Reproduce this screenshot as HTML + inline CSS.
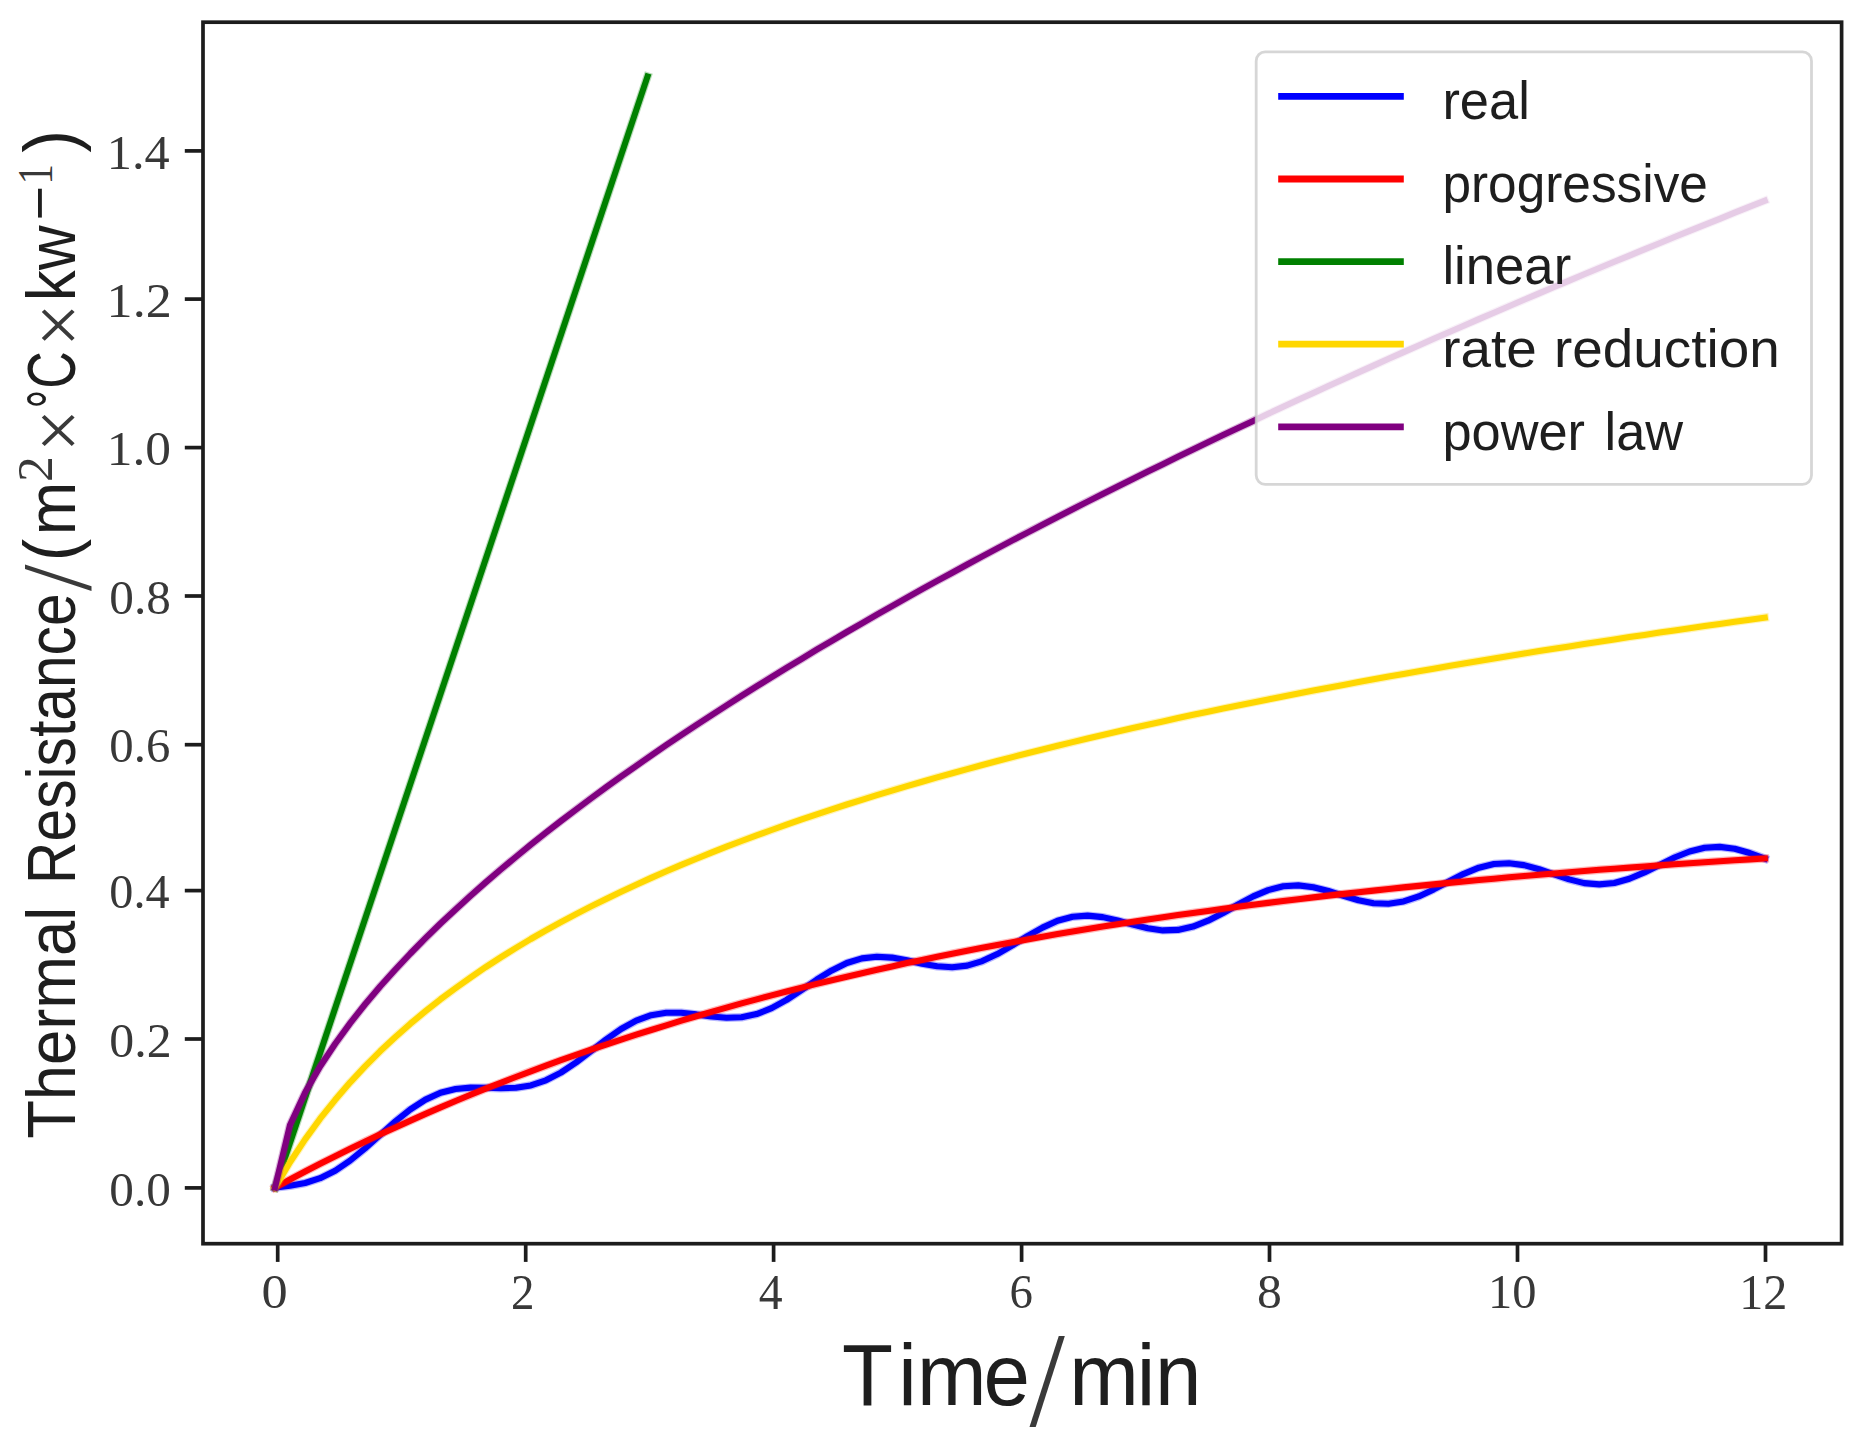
<!DOCTYPE html>
<html lang="en"><head><meta charset="utf-8"><title>Thermal Resistance vs Time</title>
<style>
html,body{margin:0;padding:0;background:#fff;}
body{width:1862px;height:1444px;overflow:hidden;}
svg{display:block;}
#chart{width:1862px;height:1444px;}
.tick{font-family:"Liberation Serif","DejaVu Serif",serif;fill:#383838;}
.sans{font-family:"Liberation Sans","DejaVu Sans",sans-serif;fill:#1e1e1e;}
.sym{font-family:"Liberation Serif","DejaVu Serif",serif;fill:#3a3a3a;}
.ln{fill:none;stroke-linecap:square;stroke-linejoin:round;}
</style></head><body>
<div id="chart">
<svg width="1862" height="1444" viewBox="0 0 1862 1444">
<rect x="0" y="0" width="1862" height="1444" fill="#ffffff"/>
<g class="ln">
<polyline stroke="#0000ff" stroke-width="8.4" stroke-opacity="0.28" points="275.0,1187.6 290.0,1185.8 305.1,1183.0 320.1,1178.2 335.2,1170.7 350.2,1160.5 365.3,1148.2 380.3,1134.8 395.4,1121.4 410.4,1109.4 425.5,1099.6 440.5,1092.8 455.6,1089.0 470.6,1087.6 485.7,1087.8 500.7,1088.3 515.8,1087.8 530.8,1085.4 545.9,1080.3 560.9,1072.6 576.0,1062.5 591.0,1051.1 606.1,1039.5 621.1,1029.0 636.2,1020.7 651.2,1015.2 666.3,1012.7 681.3,1012.7 696.4,1014.4 711.4,1016.5 726.5,1017.8 741.5,1017.3 756.6,1014.1 771.6,1008.2 786.6,999.9 801.7,990.0 816.7,979.7 831.8,970.4 846.8,963.0 861.9,958.4 876.9,956.7 892.0,957.6 907.0,960.3 922.1,963.7 937.1,966.3 952.2,967.2 967.2,965.6 982.3,961.1 997.3,954.1 1012.4,945.4 1027.4,936.1 1042.5,927.6 1057.5,920.8 1072.6,916.7 1087.6,915.6 1102.7,917.1 1117.7,920.5 1132.8,924.6 1147.8,928.3 1162.9,930.4 1177.9,929.9 1193.0,926.6 1208.0,920.7 1223.1,913.0 1238.1,904.5 1253.2,896.4 1268.2,890.1 1283.2,886.3 1298.3,885.4 1313.3,887.2 1328.4,891.0 1343.4,895.8 1358.5,900.2 1373.5,903.2 1388.6,903.7 1403.6,901.4 1418.7,896.4 1433.7,889.4 1448.8,881.5 1463.8,873.8 1478.9,867.7 1493.9,864.0 1509.0,863.2 1524.0,865.1 1539.1,869.2 1554.1,874.4 1569.2,879.4 1584.2,883.1 1599.3,884.4 1614.3,883.0 1629.4,878.7 1644.4,872.4 1659.5,864.9 1674.5,857.5 1689.6,851.5 1704.6,847.8 1719.7,846.9 1734.7,848.8 1749.8,853.0 1764.8,858.5"/>
<polyline stroke="#0000ff" stroke-width="6.1" points="275.0,1187.6 290.0,1185.8 305.1,1183.0 320.1,1178.2 335.2,1170.7 350.2,1160.5 365.3,1148.2 380.3,1134.8 395.4,1121.4 410.4,1109.4 425.5,1099.6 440.5,1092.8 455.6,1089.0 470.6,1087.6 485.7,1087.8 500.7,1088.3 515.8,1087.8 530.8,1085.4 545.9,1080.3 560.9,1072.6 576.0,1062.5 591.0,1051.1 606.1,1039.5 621.1,1029.0 636.2,1020.7 651.2,1015.2 666.3,1012.7 681.3,1012.7 696.4,1014.4 711.4,1016.5 726.5,1017.8 741.5,1017.3 756.6,1014.1 771.6,1008.2 786.6,999.9 801.7,990.0 816.7,979.7 831.8,970.4 846.8,963.0 861.9,958.4 876.9,956.7 892.0,957.6 907.0,960.3 922.1,963.7 937.1,966.3 952.2,967.2 967.2,965.6 982.3,961.1 997.3,954.1 1012.4,945.4 1027.4,936.1 1042.5,927.6 1057.5,920.8 1072.6,916.7 1087.6,915.6 1102.7,917.1 1117.7,920.5 1132.8,924.6 1147.8,928.3 1162.9,930.4 1177.9,929.9 1193.0,926.6 1208.0,920.7 1223.1,913.0 1238.1,904.5 1253.2,896.4 1268.2,890.1 1283.2,886.3 1298.3,885.4 1313.3,887.2 1328.4,891.0 1343.4,895.8 1358.5,900.2 1373.5,903.2 1388.6,903.7 1403.6,901.4 1418.7,896.4 1433.7,889.4 1448.8,881.5 1463.8,873.8 1478.9,867.7 1493.9,864.0 1509.0,863.2 1524.0,865.1 1539.1,869.2 1554.1,874.4 1569.2,879.4 1584.2,883.1 1599.3,884.4 1614.3,883.0 1629.4,878.7 1644.4,872.4 1659.5,864.9 1674.5,857.5 1689.6,851.5 1704.6,847.8 1719.7,846.9 1734.7,848.8 1749.8,853.0 1764.8,858.5"/>
<polyline stroke="#ff0000" stroke-width="8.4" stroke-opacity="0.28" points="275.0,1187.6 290.0,1179.5 305.1,1171.5 320.1,1163.8 335.2,1156.2 350.2,1148.7 365.3,1141.4 380.3,1134.3 395.4,1127.4 410.4,1120.6 425.5,1113.9 440.5,1107.4 455.6,1101.0 470.6,1094.8 485.7,1088.7 500.7,1082.8 515.8,1077.0 530.8,1071.3 545.9,1065.7 560.9,1060.2 576.0,1054.9 591.0,1049.7 606.1,1044.6 621.1,1039.6 636.2,1034.7 651.2,1030.0 666.3,1025.3 681.3,1020.7 696.4,1016.3 711.4,1011.9 726.5,1007.6 741.5,1003.4 756.6,999.4 771.6,995.4 786.6,991.5 801.7,987.6 816.7,983.9 831.8,980.2 846.8,976.7 861.9,973.2 876.9,969.8 892.0,966.4 907.0,963.1 922.1,959.9 937.1,956.8 952.2,953.7 967.2,950.7 982.3,947.8 997.3,945.0 1012.4,942.2 1027.4,939.4 1042.5,936.7 1057.5,934.1 1072.6,931.5 1087.6,929.0 1102.7,926.6 1117.7,924.2 1132.8,921.8 1147.8,919.5 1162.9,917.3 1177.9,915.1 1193.0,913.0 1208.0,910.9 1223.1,908.8 1238.1,906.8 1253.2,904.8 1268.2,902.9 1283.2,901.0 1298.3,899.2 1313.3,897.4 1328.4,895.6 1343.4,893.9 1358.5,892.2 1373.5,890.6 1388.6,889.0 1403.6,887.4 1418.7,885.9 1433.7,884.4 1448.8,882.9 1463.8,881.5 1478.9,880.0 1493.9,878.7 1509.0,877.3 1524.0,876.0 1539.1,874.7 1554.1,873.5 1569.2,872.2 1584.2,871.0 1599.3,869.8 1614.3,868.7 1629.4,867.6 1644.4,866.5 1659.5,865.4 1674.5,864.3 1689.6,863.3 1704.6,862.3 1719.7,861.3 1734.7,860.3 1749.8,859.4 1764.8,858.5"/>
<polyline stroke="#ff0000" stroke-width="6.1" points="275.0,1187.6 290.0,1179.5 305.1,1171.5 320.1,1163.8 335.2,1156.2 350.2,1148.7 365.3,1141.4 380.3,1134.3 395.4,1127.4 410.4,1120.6 425.5,1113.9 440.5,1107.4 455.6,1101.0 470.6,1094.8 485.7,1088.7 500.7,1082.8 515.8,1077.0 530.8,1071.3 545.9,1065.7 560.9,1060.2 576.0,1054.9 591.0,1049.7 606.1,1044.6 621.1,1039.6 636.2,1034.7 651.2,1030.0 666.3,1025.3 681.3,1020.7 696.4,1016.3 711.4,1011.9 726.5,1007.6 741.5,1003.4 756.6,999.4 771.6,995.4 786.6,991.5 801.7,987.6 816.7,983.9 831.8,980.2 846.8,976.7 861.9,973.2 876.9,969.8 892.0,966.4 907.0,963.1 922.1,959.9 937.1,956.8 952.2,953.7 967.2,950.7 982.3,947.8 997.3,945.0 1012.4,942.2 1027.4,939.4 1042.5,936.7 1057.5,934.1 1072.6,931.5 1087.6,929.0 1102.7,926.6 1117.7,924.2 1132.8,921.8 1147.8,919.5 1162.9,917.3 1177.9,915.1 1193.0,913.0 1208.0,910.9 1223.1,908.8 1238.1,906.8 1253.2,904.8 1268.2,902.9 1283.2,901.0 1298.3,899.2 1313.3,897.4 1328.4,895.6 1343.4,893.9 1358.5,892.2 1373.5,890.6 1388.6,889.0 1403.6,887.4 1418.7,885.9 1433.7,884.4 1448.8,882.9 1463.8,881.5 1478.9,880.0 1493.9,878.7 1509.0,877.3 1524.0,876.0 1539.1,874.7 1554.1,873.5 1569.2,872.2 1584.2,871.0 1599.3,869.8 1614.3,868.7 1629.4,867.6 1644.4,866.5 1659.5,865.4 1674.5,864.3 1689.6,863.3 1704.6,862.3 1719.7,861.3 1734.7,860.3 1749.8,859.4 1764.8,858.5"/>
<polyline stroke="#008000" stroke-width="8.4" stroke-opacity="0.28" points="275.0,1187.6 647.5,76.5"/>
<polyline stroke="#008000" stroke-width="6.1" points="275.0,1187.6 647.5,76.5"/>
<polyline stroke="#ffd700" stroke-width="8.4" stroke-opacity="0.28" points="275.0,1187.6 290.0,1162.2 305.1,1139.4 320.1,1118.7 335.2,1099.8 350.2,1082.3 365.3,1066.2 380.3,1051.1 395.4,1037.0 410.4,1023.7 425.5,1011.2 440.5,999.3 455.6,988.1 470.6,977.4 485.7,967.1 500.7,957.4 515.8,948.0 530.8,939.0 545.9,930.4 560.9,922.1 576.0,914.1 591.0,906.4 606.1,898.9 621.1,891.7 636.2,884.7 651.2,877.9 666.3,871.3 681.3,864.9 696.4,858.7 711.4,852.6 726.5,846.7 741.5,841.0 756.6,835.4 771.6,830.0 786.6,824.6 801.7,819.4 816.7,814.4 831.8,809.4 846.8,804.5 861.9,799.8 876.9,795.1 892.0,790.6 907.0,786.1 922.1,781.7 937.1,777.4 952.2,773.2 967.2,769.1 982.3,765.0 997.3,761.0 1012.4,757.1 1027.4,753.3 1042.5,749.5 1057.5,745.8 1072.6,742.1 1087.6,738.5 1102.7,735.0 1117.7,731.5 1132.8,728.1 1147.8,724.7 1162.9,721.4 1177.9,718.1 1193.0,714.8 1208.0,711.7 1223.1,708.5 1238.1,705.4 1253.2,702.4 1268.2,699.4 1283.2,696.4 1298.3,693.4 1313.3,690.6 1328.4,687.7 1343.4,684.9 1358.5,682.1 1373.5,679.3 1388.6,676.6 1403.6,673.9 1418.7,671.3 1433.7,668.7 1448.8,666.1 1463.8,663.5 1478.9,661.0 1493.9,658.5 1509.0,656.0 1524.0,653.5 1539.1,651.1 1554.1,648.7 1569.2,646.4 1584.2,644.0 1599.3,641.7 1614.3,639.4 1629.4,637.1 1644.4,634.9 1659.5,632.6 1674.5,630.4 1689.6,628.3 1704.6,626.1 1719.7,623.9 1734.7,621.8 1749.8,619.7 1764.8,617.6"/>
<polyline stroke="#ffd700" stroke-width="6.1" points="275.0,1187.6 290.0,1162.2 305.1,1139.4 320.1,1118.7 335.2,1099.8 350.2,1082.3 365.3,1066.2 380.3,1051.1 395.4,1037.0 410.4,1023.7 425.5,1011.2 440.5,999.3 455.6,988.1 470.6,977.4 485.7,967.1 500.7,957.4 515.8,948.0 530.8,939.0 545.9,930.4 560.9,922.1 576.0,914.1 591.0,906.4 606.1,898.9 621.1,891.7 636.2,884.7 651.2,877.9 666.3,871.3 681.3,864.9 696.4,858.7 711.4,852.6 726.5,846.7 741.5,841.0 756.6,835.4 771.6,830.0 786.6,824.6 801.7,819.4 816.7,814.4 831.8,809.4 846.8,804.5 861.9,799.8 876.9,795.1 892.0,790.6 907.0,786.1 922.1,781.7 937.1,777.4 952.2,773.2 967.2,769.1 982.3,765.0 997.3,761.0 1012.4,757.1 1027.4,753.3 1042.5,749.5 1057.5,745.8 1072.6,742.1 1087.6,738.5 1102.7,735.0 1117.7,731.5 1132.8,728.1 1147.8,724.7 1162.9,721.4 1177.9,718.1 1193.0,714.8 1208.0,711.7 1223.1,708.5 1238.1,705.4 1253.2,702.4 1268.2,699.4 1283.2,696.4 1298.3,693.4 1313.3,690.6 1328.4,687.7 1343.4,684.9 1358.5,682.1 1373.5,679.3 1388.6,676.6 1403.6,673.9 1418.7,671.3 1433.7,668.7 1448.8,666.1 1463.8,663.5 1478.9,661.0 1493.9,658.5 1509.0,656.0 1524.0,653.5 1539.1,651.1 1554.1,648.7 1569.2,646.4 1584.2,644.0 1599.3,641.7 1614.3,639.4 1629.4,637.1 1644.4,634.9 1659.5,632.6 1674.5,630.4 1689.6,628.3 1704.6,626.1 1719.7,623.9 1734.7,621.8 1749.8,619.7 1764.8,617.6"/>
<polyline stroke="#800080" stroke-width="8.4" stroke-opacity="0.28" points="275.0,1187.6 290.0,1125.0 305.1,1092.6 320.1,1066.5 335.2,1043.7 350.2,1023.1 365.3,1004.0 380.3,986.3 395.4,969.5 410.4,953.5 425.5,938.2 440.5,923.5 455.6,909.4 470.6,895.7 485.7,882.4 500.7,869.5 515.8,857.0 530.8,844.7 545.9,832.7 560.9,821.0 576.0,809.6 591.0,798.4 606.1,787.3 621.1,776.5 636.2,765.9 651.2,755.4 666.3,745.1 681.3,735.0 696.4,725.0 711.4,715.2 726.5,705.5 741.5,695.9 756.6,686.4 771.6,677.1 786.6,667.9 801.7,658.8 816.7,649.7 831.8,640.8 846.8,632.0 861.9,623.3 876.9,614.6 892.0,606.1 907.0,597.6 922.1,589.2 937.1,580.9 952.2,572.7 967.2,564.5 982.3,556.4 997.3,548.4 1012.4,540.4 1027.4,532.6 1042.5,524.7 1057.5,517.0 1072.6,509.2 1087.6,501.6 1102.7,494.0 1117.7,486.5 1132.8,479.0 1147.8,471.5 1162.9,464.2 1177.9,456.8 1193.0,449.5 1208.0,442.3 1223.1,435.1 1238.1,428.0 1253.2,420.9 1268.2,413.8 1283.2,406.8 1298.3,399.8 1313.3,392.9 1328.4,386.0 1343.4,379.2 1358.5,372.4 1373.5,365.6 1388.6,358.8 1403.6,352.1 1418.7,345.5 1433.7,338.8 1448.8,332.2 1463.8,325.7 1478.9,319.1 1493.9,312.7 1509.0,306.2 1524.0,299.8 1539.1,293.4 1554.1,287.0 1569.2,280.6 1584.2,274.3 1599.3,268.0 1614.3,261.8 1629.4,255.6 1644.4,249.4 1659.5,243.2 1674.5,237.0 1689.6,230.9 1704.6,224.8 1719.7,218.8 1734.7,212.7 1749.8,206.7 1764.8,200.7"/>
<polyline stroke="#800080" stroke-width="6.1" points="275.0,1187.6 290.0,1125.0 305.1,1092.6 320.1,1066.5 335.2,1043.7 350.2,1023.1 365.3,1004.0 380.3,986.3 395.4,969.5 410.4,953.5 425.5,938.2 440.5,923.5 455.6,909.4 470.6,895.7 485.7,882.4 500.7,869.5 515.8,857.0 530.8,844.7 545.9,832.7 560.9,821.0 576.0,809.6 591.0,798.4 606.1,787.3 621.1,776.5 636.2,765.9 651.2,755.4 666.3,745.1 681.3,735.0 696.4,725.0 711.4,715.2 726.5,705.5 741.5,695.9 756.6,686.4 771.6,677.1 786.6,667.9 801.7,658.8 816.7,649.7 831.8,640.8 846.8,632.0 861.9,623.3 876.9,614.6 892.0,606.1 907.0,597.6 922.1,589.2 937.1,580.9 952.2,572.7 967.2,564.5 982.3,556.4 997.3,548.4 1012.4,540.4 1027.4,532.6 1042.5,524.7 1057.5,517.0 1072.6,509.2 1087.6,501.6 1102.7,494.0 1117.7,486.5 1132.8,479.0 1147.8,471.5 1162.9,464.2 1177.9,456.8 1193.0,449.5 1208.0,442.3 1223.1,435.1 1238.1,428.0 1253.2,420.9 1268.2,413.8 1283.2,406.8 1298.3,399.8 1313.3,392.9 1328.4,386.0 1343.4,379.2 1358.5,372.4 1373.5,365.6 1388.6,358.8 1403.6,352.1 1418.7,345.5 1433.7,338.8 1448.8,332.2 1463.8,325.7 1478.9,319.1 1493.9,312.7 1509.0,306.2 1524.0,299.8 1539.1,293.4 1554.1,287.0 1569.2,280.6 1584.2,274.3 1599.3,268.0 1614.3,261.8 1629.4,255.6 1644.4,249.4 1659.5,243.2 1674.5,237.0 1689.6,230.9 1704.6,224.8 1719.7,218.8 1734.7,212.7 1749.8,206.7 1764.8,200.7"/>
</g>
<g stroke="#1c1c1c" stroke-width="3.7" fill="none">
<line x1="277.7" y1="1243.7" x2="277.7" y2="1261.9"/>
<line x1="525.7" y1="1243.7" x2="525.7" y2="1261.9"/>
<line x1="773.6" y1="1243.7" x2="773.6" y2="1261.9"/>
<line x1="1021.6" y1="1243.7" x2="1021.6" y2="1261.9"/>
<line x1="1269.5" y1="1243.7" x2="1269.5" y2="1261.9"/>
<line x1="1517.5" y1="1243.7" x2="1517.5" y2="1261.9"/>
<line x1="1765.5" y1="1243.7" x2="1765.5" y2="1261.9"/>
<line x1="203.0" y1="1187.9" x2="184.8" y2="1187.9"/>
<line x1="203.0" y1="1039.0" x2="184.8" y2="1039.0"/>
<line x1="203.0" y1="890.6" x2="184.8" y2="890.6"/>
<line x1="203.0" y1="744.7" x2="184.8" y2="744.7"/>
<line x1="203.0" y1="596.0" x2="184.8" y2="596.0"/>
<line x1="203.0" y1="447.6" x2="184.8" y2="447.6"/>
<line x1="203.0" y1="299.1" x2="184.8" y2="299.1"/>
<line x1="203.0" y1="150.9" x2="184.8" y2="150.9"/>
<rect x="203.0" y="22.2" width="1638.6" height="1221.5" stroke-linejoin="miter"/>
</g>
<text class="tick" font-size="50" transform="translate(261.40,1308.11) scale(1.0476,0.9837)">0</text>
<text class="tick" font-size="50" transform="translate(510.99,1308.60) scale(0.9400,1.0061)">2</text>
<text class="tick" font-size="50" transform="translate(758.65,1308.60) scale(0.9548,1.0061)">4</text>
<text class="tick" font-size="50" transform="translate(1009.39,1308.10) scale(0.9365,0.9910)">6</text>
<text class="tick" font-size="50" transform="translate(1257.11,1308.11) scale(0.9952,0.9837)">8</text>
<text class="tick" font-size="50" transform="translate(1488.03,1308.11) scale(0.9701,0.9837)">10</text>
<text class="tick" font-size="50" transform="translate(1739.16,1308.60) scale(0.9637,1.0061)">12</text>
<text class="tick" font-size="50" transform="translate(109.33,1205.67) scale(0.9846,0.9735)">0.0</text>
<text class="tick" font-size="50" transform="translate(109.31,1056.73) scale(0.9974,0.9735)">0.2</text>
<text class="tick" font-size="50" transform="translate(109.37,908.39) scale(0.9640,0.9735)">0.4</text>
<text class="tick" font-size="50" transform="translate(109.35,762.45) scale(0.9763,0.9735)">0.6</text>
<text class="tick" font-size="50" transform="translate(109.33,613.81) scale(0.9846,0.9735)">0.8</text>
<text class="tick" font-size="50" transform="translate(106.67,465.37) scale(1.0286,0.9735)">1.0</text>
<text class="tick" font-size="50" transform="translate(106.61,316.82) scale(1.0425,0.9807)">1.2</text>
<text class="tick" font-size="50" transform="translate(106.77,168.68) scale(1.0061,0.9807)">1.4</text>
<g aria-label="Time/min">
<text class="sans" font-size="87" x="877.0 935.8 955.1 1024.4" y="1405" transform="scale(0.96,1)">Time</text>
<text class="sym" font-size="124" transform="translate(1029.60,1425.64) scale(1.0264,1.0929)">/</text>
<text class="sans" font-size="87" x="1113.8 1184.0 1203.1" y="1405" transform="scale(0.96,1)">min</text>
</g>
<g transform="translate(74.8,1444) rotate(-90)" aria-label="Thermal Resistance/(m2×°C×kw−1)">
<text class="sans" font-size="68" transform="translate(305.13,0.00) scale(0.9312,1.0000)">Thermal</text>
<text class="sans" font-size="68" transform="translate(560.10,0.00) scale(0.8637,1.0000)">Resistance</text>
<text class="sym" font-size="92" transform="translate(853.00,15.20) scale(1.0356,1.0918)">/</text>
<text class="sans" font-size="73" transform="translate(882.67,1.36) scale(0.9201,1.0138)">(</text>
<text class="sans" font-size="68" transform="translate(908.73,0.00) scale(0.9433,1.0000)">m</text>
<text class="tick" font-size="50" transform="translate(961.98,-22.40) scale(1.0300,1.0000)">2</text>
<text class="sym" font-size="72" transform="translate(991.90,10.50) scale(1.0597,1.1214)">×</text>
<text class="sans" font-size="68" transform="translate(1035.39,0.00) scale(0.6880,1.0000)">°</text>
<text class="sans" font-size="68" transform="translate(1055.30,0.00) scale(0.7633,1.0000)">C</text>
<text class="sym" font-size="72" transform="translate(1097.26,10.50) scale(1.0665,1.1214)">×</text>
<text class="sans" font-size="68" transform="translate(1142.67,0.00) scale(0.9128,1.0000)">kw</text>
<text class="sans" font-size="50" transform="translate(1223.53,-16.61) scale(1.1876,1.0857)">−</text>
<text class="tick" font-size="50" transform="translate(1259.40,-22.40) scale(0.8229,1.0000)">1</text>
<text class="sans" font-size="73" transform="translate(1291.22,1.52) scale(0.9326,1.0226)">)</text>
</g>
<rect x="1256.2" y="51.9" width="555.3" height="432.4" rx="9" ry="9" fill="#ffffff" fill-opacity="0.8" stroke="#cccccc" stroke-opacity="0.8" stroke-width="2.8"/>
<line x1="1281.6" y1="96.4" x2="1400.4" y2="96.4" stroke="#0000ff" stroke-width="6.8" stroke-linecap="square"/>
<text class="sans" font-size="54" transform="translate(1442.39,119.10) scale(0.9712,1)">real</text>
<line x1="1281.6" y1="179.0" x2="1400.4" y2="179.0" stroke="#ff0000" stroke-width="6.8" stroke-linecap="square"/>
<text class="sans" font-size="54" transform="translate(1442.46,201.70) scale(0.9512,1)">progressive</text>
<line x1="1281.6" y1="261.6" x2="1400.4" y2="261.6" stroke="#008000" stroke-width="6.8" stroke-linecap="square"/>
<text class="sans" font-size="54" transform="translate(1442.38,284.30) scale(0.9756,1)">linear</text>
<line x1="1281.6" y1="344.2" x2="1400.4" y2="344.2" stroke="#ffd700" stroke-width="6.8" stroke-linecap="square"/>
<text class="sans" font-size="54" transform="translate(1442.23,366.90) scale(1.0168,1)">rate <tspan x="109.86">reduction</tspan></text>
<line x1="1281.6" y1="426.8" x2="1400.4" y2="426.8" stroke="#800080" stroke-width="6.8" stroke-linecap="square"/>
<text class="sans" font-size="54" transform="translate(1442.40,449.50) scale(0.9700,1)">power <tspan x="167.22">law</tspan></text>
</svg>
</div>
</body></html>
